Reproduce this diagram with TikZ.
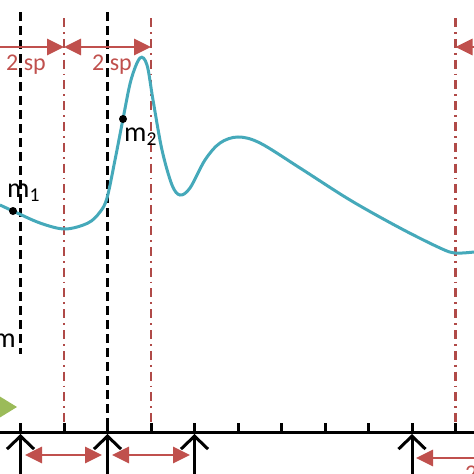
\documentclass[tikz,border=0pt]{standalone}
\usepackage{fontspec}
\setmainfont{Carlito}
\usetikzlibrary{arrows.meta,positioning}
\definecolor{sigred}{HTML}{C0504D}
\definecolor{refred}{HTML}{B04A48}
\definecolor{sigteal}{HTML}{45A9BA}
\definecolor{siggreen}{HTML}{9BBB59}

\begin{document}
\begin{tikzpicture}[x=1pt,y=-1pt,
  blk/.style={black,line width=3pt,dash pattern=on 9pt off 5pt},
  refl/.style={refred,line width=2.6pt,dash pattern=on 9pt off 5pt on 1.8pt off 5pt},
  dimr/.style={-{Triangle[length=17pt,width=16pt]},sigred,line width=2.8pt},
  dimb/.style={{Triangle[length=17pt,width=16pt]}-{Triangle[length=17pt,width=16pt]},sigred,line width=2.8pt},
  probe/.style={-{Straight Barb[length=13pt,width=27pt]},black,line width=3pt},
  sig/.style={sigteal,line width=3pt},
  dot/.style={circle,fill=black,inner sep=0pt,minimum size=8pt},
  lab/.style={font=\fontsize{28}{30}\selectfont,inner sep=0pt},
  sp/.style={font=\fontsize{24}{26}\selectfont,text=sigred,inner sep=0pt}]
\useasboundingbox (0,0) rectangle (474,474);
\clip (0,0) rectangle (474,474);
% axis positions
\foreach \k in {0,...,10}{
  \pgfmathsetmacro\xk{20.5+43.5*\k}
  \coordinate (t\k) at (\xk,432);
  \coordinate (u\k) at (\xk,474);
}
\coordinate (ax0) at (0,432);
\coordinate (ax1) at (474,432);
% vertical markers
\coordinate (b0) at (20.5,12);
\coordinate (b0e) at (20.5,354);
\coordinate (b2) at (107.5,12);
\coordinate (r1) at (64,18);
\coordinate (r3) at (151,18);
\coordinate (r10) at (455.5,18);
\draw[blk] (b0) -- (b0e);
\draw[blk] (b2) -- (t2);
\draw[refl] (r1) -- (t1);
\draw[refl] (r3) -- (t3);
\draw[refl] (r10) -- (t10);
% spacing arrows on top
\coordinate (a0) at (-5,47);
\coordinate (a1) at (64,47);
\coordinate (a3) at (151,47);
\coordinate (a10) at (455.5,47);
\coordinate (a11) at (480,47);
\draw[dimr] (a0) -- (a1);
\draw[dimb] (a1) -- (a3);
\draw[dimr] (a11) -- (a10);
\node[sp,anchor=base west] (sp1) at (6,70) {2 sp};
\node[sp,anchor=base west] (sp2) at (92,70) {2 sp};
% signal
\draw[sig] plot[smooth,tension=0.55] coordinates {(0,205) (13,211) (40,223) (65,229)
  (88,223) (100,212) (107,198) (115,160) (123,119) (131,80) (140,58) (147,65)
  (153,100) (162,150) (172,185) (180,195) (190,188) (205,160) (220,143) (238,137)
  (260,143) (300,168) (350,200) (400,228) (440,248) (455,253) (474,252)};
\node[dot] (m1) at (13,211) {};
\node[dot] (m2) at (123,119) {};
\node[lab,anchor=base west] (m1l) at (7,197) {m\textsubscript{1}};
\node[lab,anchor=base west] (m2l) at (124,141) {m\textsubscript{2}};
\node[lab,anchor=base east] (ml) at (16,347) {m};
% start marker
\fill[siggreen] (-14,388) -- (17,407) -- (-14,426) -- cycle;
% axis and ticks
\draw[black,line width=3pt] (ax0) -- (ax1);
\foreach \k in {0,...,10}
  \draw[black,line width=3pt] (t\k) -- ++(0,-9);
% sample arrows
\foreach \k in {0,2,4,9}
  \draw[probe,shorten >=2pt] (u\k) -- (t\k);
% spacing arrows at the bottom
\coordinate (c0) at (25,455);
\coordinate (c2l) at (102,455);
\coordinate (c2r) at (112,455);
\coordinate (c4) at (190,455);
\coordinate (c9) at (416,458);
\coordinate (c11) at (480,458);
\draw[dimb] (c0) -- (c2l);
\draw[dimb] (c2r) -- (c4);
\draw[dimr] (c11) -- (c9);
\node[sp,anchor=north west] (sp3) at (465,466) {2 sp};
\end{tikzpicture}
\end{document}
